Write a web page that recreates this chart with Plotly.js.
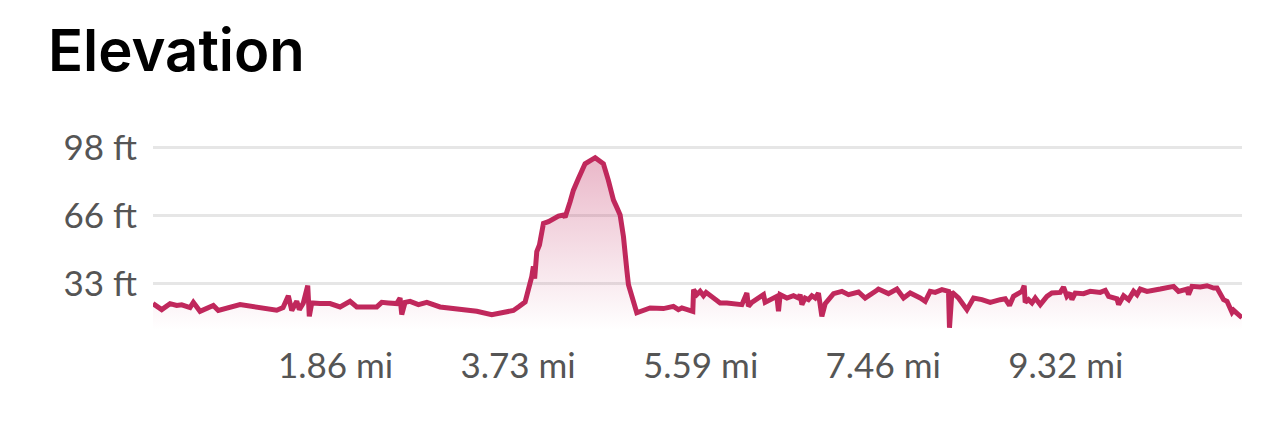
<!DOCTYPE html>
<html>
<head>
<meta charset="utf-8">
<script src="https://cdn.plot.ly/plotly-3.0.1.min.js"></script>
<style>
  html, body { margin: 0; padding: 0; background: #fff; }
  #myDiv { width: 1273px; height: 435px; }
</style>
</head>
<body>
<div id="myDiv"></div>
<script>

// distance along the route (miles) and elevation (feet)
var distMi = [
  0.000, 0.089, 0.174, 0.242, 0.293, 0.378, 0.412, 0.480, 0.616, 0.667,
  0.889, 1.263, 1.328, 1.382, 1.417, 1.468, 1.494, 1.535, 1.580, 1.596,
  1.621, 1.706, 1.808, 1.910, 2.012, 2.081, 2.285, 2.336, 2.403, 2.489,
  2.523, 2.540, 2.574, 2.625, 2.710, 2.796, 2.931, 3.306, 3.459, 3.680,
  3.741, 3.800, 3.868, 3.884, 3.897, 3.919, 3.946, 3.987, 4.038, 4.140,
  4.191, 4.208, 4.259, 4.293, 4.344, 4.412, 4.515, 4.599, 4.650, 4.702,
  4.736, 4.770, 4.804, 4.838, 4.855, 4.940, 5.076, 5.212, 5.314, 5.365,
  5.400, 5.512, 5.520, 5.553, 5.587, 5.621, 5.648, 5.791, 5.860, 6.013,
  6.064, 6.080, 6.115, 6.234, 6.251, 6.370, 6.387, 6.404, 6.473, 6.540,
  6.591, 6.608, 6.626, 6.659, 6.693, 6.728, 6.762, 6.795, 6.830, 6.864,
  6.949, 7.034, 7.102, 7.204, 7.272, 7.392, 7.408, 7.510, 7.596, 7.664,
  7.732, 7.834, 7.885, 7.936, 7.987, 8.056, 8.123, 8.133, 8.158, 8.225,
  8.311, 8.379, 8.464, 8.549, 8.651, 8.702, 8.746, 8.787, 8.873, 8.896,
  8.906, 8.940, 8.975, 9.009, 9.060, 9.128, 9.179, 9.264, 9.298, 9.332,
  9.366, 9.383, 9.417, 9.502, 9.570, 9.673, 9.724, 9.758, 9.843, 9.860,
  9.911, 9.962, 10.013, 10.048, 10.081, 10.150, 10.285, 10.421, 10.472, 10.558,
  10.574, 10.609, 10.694, 10.763, 10.830, 10.865, 10.932, 10.967, 11.018, 11.034,
  11.120
];

var elevFt = [
  23.2, 20.3, 23.2, 22.3, 22.6, 21.3, 23.8, 19.5, 22.3, 19.9,
  22.7, 20.0, 21.3, 27.0, 19.9, 24.3, 20.3, 23.5, 31.8, 17.1,
  23.5, 23.2, 23.2, 21.6, 24.3, 21.6, 21.6, 23.8, 23.5, 23.2,
  25.9, 17.9, 23.8, 24.3, 22.7, 23.8, 21.6, 19.5, 17.9, 19.9,
  21.9, 24.0, 36.3, 41.1, 35.2, 48.2, 51.4, 61.8, 62.6, 65.3,
  65.8, 64.7, 72.2, 77.8, 83.4, 90.5, 93.4, 90.5, 82.5, 73.0,
  69.5, 65.8, 55.4, 39.5, 32.3, 18.8, 21.1, 20.8, 21.9, 20.3,
  21.1, 19.5, 29.9, 27.5, 29.1, 27.0, 28.6, 23.5, 23.5, 22.7,
  28.3, 21.9, 23.8, 27.5, 23.8, 26.7, 19.5, 27.5, 25.9, 27.0,
  25.9, 27.5, 22.7, 25.9, 25.1, 27.0, 25.9, 28.3, 17.1, 23.2,
  28.0, 29.1, 27.5, 28.8, 25.9, 29.6, 30.2, 28.0, 30.2, 25.9,
  28.3, 25.9, 24.3, 29.1, 28.6, 29.9, 29.1, 11.6, 28.8, 25.9,
  20.3, 25.9, 25.1, 23.8, 25.1, 25.5, 22.3, 26.7, 29.1, 31.8,
  23.8, 25.1, 23.5, 25.9, 22.7, 26.7, 28.3, 28.6, 31.2, 26.7,
  28.3, 25.1, 28.3, 28.0, 29.1, 28.6, 29.6, 26.7, 25.5, 22.7,
  27.0, 25.1, 29.1, 27.5, 30.2, 29.1, 30.2, 31.5, 29.1, 30.2,
  27.5, 31.5, 31.2, 31.8, 30.7, 30.7, 25.1, 24.3, 19.0, 20.0,
  16.4
];

// axis ticks: 3/6/9/12/15 km and 10/20/30 m, labelled in imperial
var xTickVals = [1.864, 3.728, 5.592, 7.456, 9.321];
var xTickText = ['1.86 mi', '3.73 mi', '5.59 mi', '7.46 mi', '9.32 mi'];
var yTickVals = [32.8, 65.6, 98.4];
var yTickText = ['33 ft', '66 ft', '98 ft'];

var lineColor = '#c0285c';
var tickFont = { family: 'Lato, sans-serif', size: 35, color: '#555' };

var elevation = {
  x: distMi,
  y: elevFt,
  type: 'scatter',
  mode: 'lines',
  line: { color: lineColor, width: 5, simplify: false },
  fill: 'tozeroy',
  fillgradient: {
    type: 'vertical',
    start: 10.5,
    stop: 95,
    colorscale: [[0, 'rgba(192,40,92,0)'], [1, 'rgba(192,40,92,0.34)']]
  },
  hoverinfo: 'skip'
};

var layout = {
  width: 1273,
  height: 435,
  paper_bgcolor: '#fff',
  plot_bgcolor: '#fff',
  showlegend: false,
  margin: { l: 153, r: 31, t: 143.5, b: 104.5 },
  title: {
    text: 'Elevation',
    font: { family: 'Inter, sans-serif', size: 58, weight: 600, color: '#000' },
    xref: 'container',
    yref: 'container',
    x: 48 / 1273,
    xanchor: 'left',
    y: 1 - 30 / 435,
    yanchor: 'top'
  },
  xaxis: {
    range: [0, 11.12],
    showgrid: false,
    zeroline: false,
    showline: false,
    ticks: '',
    tickmode: 'array',
    tickvals: xTickVals,
    ticktext: xTickText,
    ticklabelstandoff: 12,
    tickfont: tickFont,
    fixedrange: true
  },
  yaxis: {
    range: [10.5, 100],
    showgrid: true,
    gridcolor: '#e6e6e6',
    gridwidth: 2.5,
    zeroline: false,
    showline: false,
    ticks: '',
    tickmode: 'array',
    tickvals: yTickVals,
    ticktext: yTickText,
    ticklabelstandoff: 15,
    tickfont: tickFont,
    fixedrange: true
  }
};

Plotly.newPlot('myDiv', [elevation], layout, { displayModeBar: false, staticPlot: true });
</script>
</body>
</html>
